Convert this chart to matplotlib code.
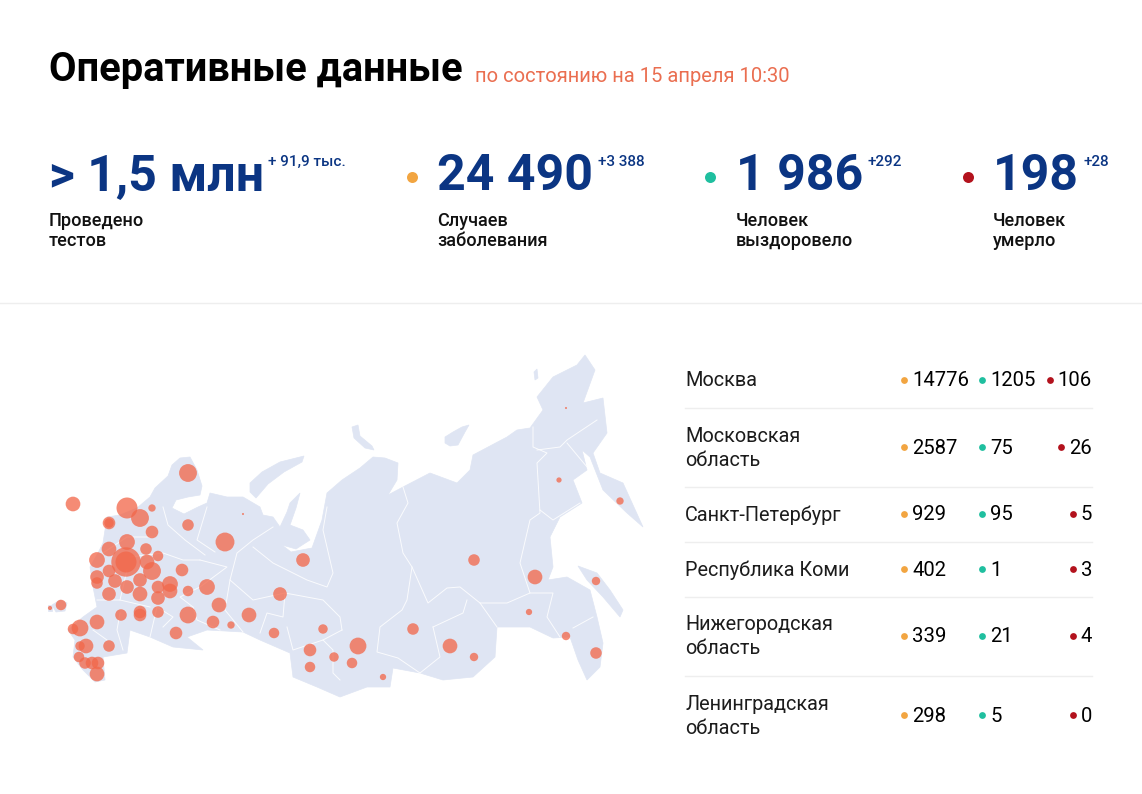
import matplotlib
matplotlib.use("Agg")
import matplotlib.pyplot as plt
from matplotlib.patches import Polygon

# ---------- data ----------
title = "Оперативные данные"
subtitle = "по состоянию на 15 апреля 10:30"
kpi_values = ["> 1,5 млн", "24 490", "1 986", "198"]
kpi_deltas = ["+ 91,9 тыс.", "+3 388", "+292", "+28"]
kpi_labels = ["Проведено\nтестов", "Случаев\nзаболевания", "Человек\nвыздоровело", "Человек\nумерло"]

regions = ["Москва", "Московская\nобласть", "Санкт-Петербург", "Республика Коми",
           "Нижегородская\nобласть", "Ленинградская\nобласть"]
cases = [14776, 2587, 929, 402, 339, 298]
recovered = [1205, 75, 95, 1, 21, 5]
deaths = [106, 26, 5, 3, 4, 0]

mainland = [(107,517),(120,515),(137,508),(150,497),(155,488),(168,476),(172,465),(180,458),(190,457),(197,470),
    (202,486),(200,495),(188,497),(176,500),(172,508),(184,514),(198,507),(207,503),(210,493),(227,497),(243,497),
    (260,507),(263,515),(273,517),(280,527),(287,512),(290,503),(300,493),(296,508),(290,525),(303,530),(310,540),
    (296,549),(282,545),(291,552),(312,548),(322,520),(327,493),(342,480),(360,468),(373,457),(385,458),(398,463),
    (397,480),(388,495),(403,487),(430,473),(457,483),(470,470),(473,455),(507,437),(517,430),(530,428),(543,410),
    (537,397),(553,377),(577,365),(585,355),(595,370),(583,403),(603,398),(607,433),(593,453),(600,473),(623,483),
    (643,527),(627,513),(603,490),(590,457),(582,450),(587,470),(573,480),(582,503),(560,517),(550,537),(553,567),
    (548,580),(567,577),(590,590),(597,617),(603,643),(600,667),(587,680),(578,660),(570,637),(553,638),(530,627),
    (497,627),(495,657),(473,677),(443,680),(420,673),(393,668),(390,687),(367,687),(340,697),(317,687),(293,677),
    (290,653),(260,640),(243,632),(207,630),(187,637),(203,650),(173,647),(150,637),(130,630),(127,653),(103,657),
    (105,680),(95,682),(83,670),(73,657),(75,640),(68,630),(83,617),(97,607),(93,587),(90,567),(98,553),(103,543)]
novaya_zemlya = [(250,483),(262,472),(280,462),(304,456),(302,462),(284,472),(268,484),(256,498),(250,492)]
sakhalin = [(578,566),(597,573),(610,590),(623,610),(620,617),(603,597),(587,580)]
wrangel = [(534,372),(537,369),(538,378),(535,380)]
severnaya = [(445,437),(453,432),(462,427),(469,425),(465,432),(458,445),(450,446),(445,443)]
franz = [(352,427),(358,425),(360,436),(372,446),(374,450),(365,448),(354,438)]
crimea = [(52,605),(60,600),(67,603),(65,611),(56,612)]
kaliningrad = [(48,605),(52,605),(52,611),(48,611)]
islands = [novaya_zemlya, sakhalin, wrangel, severnaya, franz, crimea, kaliningrad]

borders = [
    [(163,507),(168,525),(185,540),(205,555)],
    [(207,507),(197,540),(215,552)],
    [(273,527),(253,540),(237,553),(230,580),(253,600),(285,593),(323,600),(340,617),(342,630)],
    [(253,547),(273,563),(307,580),(327,587),(333,573),(323,530),(327,507)],
    [(403,487),(408,503),(397,523),(403,553),(412,567),(407,600),(402,610),(380,627),(377,652),(398,658),(420,673)],
    [(412,567),(428,603),(447,588),(460,587),(480,603),(507,603),(530,593),(520,563),(530,520),(540,513),(537,463),(547,453),(533,447),(533,427)],
    [(433,627),(463,613),(467,600)],
    [(433,627),(440,657),(420,673)],
    [(480,603),(497,627)],
    [(540,510),(553,520),(580,503)],
    [(537,450),(560,447),(567,440),(597,420)],
    [(567,443),(587,467)],
    [(530,593),(553,593),(547,617),(560,637)],
    [(573,628),(593,617)],
    [(157,607),(173,617),(163,627)],
    [(200,560),(227,567),(200,587),(180,597),(193,607),(197,620),(220,630)],
    [(120,613),(117,630),(123,650)],
    [(93,630),(107,640)],
    [(130,557),(163,553),(183,560),(200,560)],
    [(97,600),(120,600),(150,607)],
    [(103,553),(127,537),(153,537)],
    [(285,593),(283,617),(267,613),(260,633)],
    [(287,627),(293,650),(323,640),(333,650),(333,673),(340,680)],
    [(323,640),(342,630)],
    [(150,637),(157,607)],
    [(120,600),(127,570)],
    [(230,580),(225,610),(243,632)],
]

bubble_x = [188,73,127,140,152,109,109,152,188,225,243,303,127,109,146,158,97,126,126,147,152,182,109,97,97,115,140,127,
            158,170,170,188,207,109,140,158,280,219,61,50,140,140,158,121,188,249,97,213,231,80,73,176,274,323,86,80,
            109,310,358,79,334,352,85,92,98,310,97,383,413,450,474,474,535,529,596,566,596,620,559,566]
bubble_y = [473,504,508,518,508,523,523,532,525,542,514,560,542,549,549,556,560,562,562,562,571,570,571,577,583,581,580,
            587,587,584,591,591,587,594,594,598,594,605,605,608,612,615,612,615,615,615,622,622,625,628,629,633,633,629,
            646,646,646,650,646,657,657,663,663,663,663,667,674,677,629,646,657,560,577,612,581,636,653,501,480,408]
bubble_r = [8.5,7,10,8.5,3.5,6,4.5,6,5.5,9,1,6.5,7.5,7,5.5,5,7.5,14,10,7,8.5,6,6,6.5,5.5,6.5,6.5,6.5,6,7.5,7,5,7.5,6.5,7,
            6.5,6.5,7,5,2,6,6,5.5,5.5,8,7,7,6,3.5,8,5,6,5,4.5,7,4.5,5.5,6,8,5,4.5,5,5.5,6,6,5,7,3,5.5,7,4,5.5,7,3,4,4,5.5,3.5,2.5,1]

# ---------- style ----------
NAVY = "#0b3583"
ORANGE = "#f2a541"
TEAL = "#1fbf9f"
RED = "#b3121d"
CORAL = "#f2674a"
plt.rcParams["font.family"] = ["Roboto", "DejaVu Sans"]

fig = plt.figure(figsize=(11.42, 7.94), dpi=100, facecolor="white")
ax = fig.add_axes([0, 0, 1, 1])
ax.set_xlim(0, 1142)
ax.set_ylim(794, 0)
ax.axis("off")

def dot(x, y, r, c):
    ax.scatter([x], [y], s=(2 * r * 0.72) ** 2, color=c, linewidths=0, zorder=4)

# header
ax.text(49, 70, title, fontsize=28.7, fontweight="bold", color="black", va="center", ha="left")
ax.text(475, 76, subtitle, fontsize=14.5, color="#ea6e50", va="center", ha="left")

# KPI blocks
value_x = [49, 437, 736, 993]
delta_x = [268, 598, 867, 1083]
dot_x = [None, 412, 710, 968]
dot_c = [None, ORANGE, TEAL, RED]
for vx, dx, px, pc, v, d, lab in zip(value_x, delta_x, dot_x, dot_c, kpi_values, kpi_deltas, kpi_labels):
    ax.text(vx, 177, v, fontsize=36, fontweight="bold", color=NAVY, va="center", ha="left")
    ax.text(dx, 162, d, fontsize=11, fontweight="medium", color=NAVY, va="center", ha="left")
    l1, l2 = lab.split("\n")
    ax.text(vx, 220.5, l1, fontsize=13.1, fontweight="medium", color="#111111", va="center", ha="left")
    ax.text(vx, 241.5, l2, fontsize=13.1, fontweight="medium", color="#111111", va="center", ha="left")
    if px is not None:
        dot(px, 177, 5.5, pc)

ax.plot([0, 1142], [302.5, 302.5], color="#eeeeee", lw=1)

# map
for poly in [mainland] + islands:
    ax.add_patch(Polygon(poly, closed=True, facecolor="#dfe5f3", edgecolor="#dfe5f3", lw=0.5, zorder=1))
for line in borders:
    xs, ys = zip(*line)
    ax.plot(xs, ys, color="white", lw=0.7, alpha=0.85, zorder=2, solid_joinstyle="round")
ax.scatter(bubble_x, bubble_y, s=[(2 * r * 1.05 * 0.72) ** 2 for r in bubble_r],
           color=CORAL, alpha=0.76, linewidths=0, zorder=3)

# table
row_y = [380, 447, 514, 569, 636, 715]
sep_y = [407, 486, 541, 596, 675]
for y in sep_y:
    ax.plot([685, 1092], [y + 0.5, y + 0.5], color="#eeeeee", lw=1)
for y, name, a, b, c in zip(row_y, regions, cases, recovered, deaths):
    parts = name.split("\n")
    if len(parts) == 1:
        ax.text(685, y + 1, parts[0], fontsize=14.3, color="#1c1c1c", va="center", ha="left")
    else:
        ax.text(685, y - 11, parts[0], fontsize=14.3, color="#1c1c1c", va="center", ha="left")
        ax.text(685, y + 13, parts[1], fontsize=14.3, color="#1c1c1c", va="center", ha="left")
    dot(904, y, 3.4, ORANGE)
    ax.text(912, y + 1, str(a), fontsize=14.6, color="black", va="center", ha="left")
    dot(982, y, 3.4, TEAL)
    ax.text(990, y + 1, str(b), fontsize=14.6, color="black", va="center", ha="left")
    t = ax.text(1092, y + 1, str(c), fontsize=14.6, color="black", va="center", ha="right")
    fig.canvas.draw()
    w = t.get_window_extent().width
    dot(1092 - w - 8, y, 3.4, RED)

fig.savefig("out.png", dpi=100, facecolor="white")
